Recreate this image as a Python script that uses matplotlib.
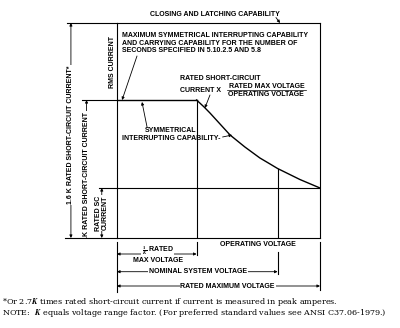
import matplotlib
matplotlib.use("Agg")
import matplotlib.pyplot as plt

plt.rcParams['font.family'] = ['Liberation Sans', 'DejaVu Sans']
plt.rcParams['font.weight'] = 'bold'
plt.rcParams['mathtext.fontset'] = 'stix'

# voltage in units of rated maximum voltage, current in units of rated SC current
v_knee = 0.392
v_op = 0.791
v_max = 1.0
i_rated = 1.0
i_k = 2.76
i_close = 4.3

# curve: rated SC current x (rated max V / operating V)
curve_v = [0.392, 0.429, 0.458, 0.557, 0.630, 0.704, 0.754, 0.791, 0.901, 1.0]
curve_i = [2.76, 2.62, 2.50, 2.06, 1.82, 1.60, 1.48, 1.39, 1.17, 1.0]

fs = 5.0
lw = 0.8
arr = dict(arrowstyle='-|>', lw=0.6, color='black', mutation_scale=4,
           shrinkA=0, shrinkB=0)
dim = dict(arrowstyle='<|-|>', lw=0.6, color='black', mutation_scale=4,
           shrinkA=0, shrinkB=0)
wbox = dict(facecolor='white', edgecolor='none', pad=0.6)

fig = plt.figure(figsize=(4.0, 3.28), dpi=100)
ax = fig.add_axes([117/400, 90/328, 203/400, 215/328])
ax.set_xlim(0, v_max)
ax.set_ylim(0, i_close)
ax.set_xticks([])
ax.set_yticks([])
for s in ax.spines.values():
    s.set_linewidth(lw)

# capability curve
ax.plot([0, v_knee], [i_k, i_k], color='black', lw=1.0)
ax.plot(curve_v, curve_i, color='black', lw=1.0)
ax.plot([v_knee, v_knee], [0, i_k], color='black', lw=lw)
ax.plot([v_op, v_op], [0, curve_i[7]], color='black', lw=lw)
ax.plot([0, v_max], [i_rated, i_rated], color='black', lw=lw)

# left dimension lines
ax.plot([-0.246, 0], [i_close, i_close], color='black', lw=lw, clip_on=False)
ax.plot([-0.256, 0], [0, 0], color='black', lw=lw, clip_on=False)
ax.plot([-0.172, 0], [i_k, i_k], color='black', lw=lw, clip_on=False)
ax.plot([-0.089, 0], [i_rated, i_rated], color='black', lw=lw, clip_on=False)
ax.annotate('', xy=(-0.227, i_close), xytext=(-0.227, 0), arrowprops=dim,
            annotation_clip=False)
ax.annotate('', xy=(-0.15, i_k), xytext=(-0.15, 0), arrowprops=dim,
            annotation_clip=False)
ax.annotate('', xy=(-0.075, i_rated), xytext=(-0.075, 0), arrowprops=dim,
            annotation_clip=False)
ax.text(-0.227, 2.06, '1.6 K RATED SHORT-CIRCUIT CURRENT*', rotation=90,
        ha='center', va='center', fontsize=fs, bbox=wbox)
ax.text(-0.15, 1.28, 'K RATED SHORT-CIRCUIT CURRENT', rotation=90,
        ha='center', va='center', fontsize=fs, bbox=wbox)
ax.text(-0.075, 0.5, 'RATED SC\nCURRENT', rotation=90, ha='center',
        va='center', fontsize=fs, linespacing=1.0, bbox=wbox)
ax.text(-0.02, 3.52, 'RMS CURRENT', rotation=90, ha='center', va='center',
        fontsize=fs)

# bottom dimension lines
ax.plot([0, 0], [-0.08, -1.08], color='black', lw=lw, clip_on=False)
ax.plot([v_knee, v_knee], [-0.08, -0.34], color='black', lw=lw, clip_on=False)
ax.plot([v_op, v_op], [-0.28, -0.72], color='black', lw=lw, clip_on=False)
ax.plot([v_max, v_max], [-0.08, -1.04], color='black', lw=lw, clip_on=False)
ax.annotate('', xy=(v_knee, -0.32), xytext=(0, -0.32), arrowprops=dim,
            annotation_clip=False)
ax.annotate('', xy=(v_op, -0.674), xytext=(0, -0.674), arrowprops=dim,
            annotation_clip=False)
ax.annotate('', xy=(v_max, -0.96), xytext=(0, -0.96), arrowprops=dim,
            annotation_clip=False)
ax.text(0.2, -0.26, r'$\frac{1}{K}$ RATED', ha='center', va='center',
        fontsize=fs, bbox=wbox)
ax.text(0.2, -0.44, 'MAX VOLTAGE', ha='center', va='center', fontsize=fs)
ax.text(0.40, -0.674, 'NOMINAL SYSTEM VOLTAGE', ha='center', va='center',
        fontsize=fs, bbox=wbox)
ax.text(0.545, -0.96, 'RATED MAXIMUM VOLTAGE', ha='center', va='center',
        fontsize=fs, bbox=wbox)
ax.text(0.695, -0.12, 'OPERATING VOLTAGE', ha='center', va='center',
        fontsize=fs)

# labels inside / above the box
ax.text(0.483, 4.46, 'CLOSING AND LATCHING CAPABILITY', ha='center',
        va='center', fontsize=fs)
ax.annotate('', xy=(0.803, i_close), xytext=(0.783, 4.41), arrowprops=arr,
            annotation_clip=False)
ax.text(0.025, 4.12, 'MAXIMUM SYMMETRICAL INTERRUPTING CAPABILITY\n'
        'AND CARRYING CAPABILITY FOR THE NUMBER OF\n'
        'SECONDS SPECIFIED IN 5.10.2.5 AND 5.8', ha='left', va='top',
        fontsize=fs, linespacing=1.15)
ax.annotate('', xy=(0.025, i_k), xytext=(0.0985, 3.64), arrowprops=arr)
ax.text(0.31, 3.18, 'RATED SHORT-CIRCUIT', ha='left', va='center',
        fontsize=fs)
ax.text(0.31, 2.94, 'CURRENT X', ha='left', va='center', fontsize=fs)
ax.text(0.736, 3.04, 'RATED MAX VOLTAGE', ha='center', va='center',
        fontsize=fs)
ax.text(0.736, 2.86, 'OPERATING VOLTAGE', ha='center', va='center',
        fontsize=fs)
ax.plot([0.542, 0.931], [2.96, 2.96], color='black', lw=0.5)
ax.annotate('', xy=(0.433, 2.6), xytext=(0.458, 2.86), arrowprops=arr)
ax.text(0.266, 2.16, 'SYMMETRICAL', ha='center', va='center', fontsize=fs)
ax.text(0.266, 2.0, 'INTERRUPTING CAPABILITY-', ha='center', va='center',
        fontsize=fs)
ax.annotate('', xy=(0.123, 2.72), xytext=(0.148, 2.22), arrowprops=arr)
ax.annotate('', xy=(0.567, 2.06), xytext=(0.52, 2.02), arrowprops=arr)

# footnotes
fig.text(0.005, 1 - 302.5/328, '*Or 2.7$K$ times rated short-circuit current '
         'if current is measured in peak amperes.', fontsize=5.8,
         family='DejaVu Serif', weight='normal', va='center')
fig.text(0.005, 1 - 313/328, 'NOTE:  $K$ equals voltage range factor. '
         '(For preferred standard values see ANSI C37.06-1979.)',
         fontsize=5.8, family='DejaVu Serif', weight='normal', va='center')

fig.savefig('out.png', dpi=100)
